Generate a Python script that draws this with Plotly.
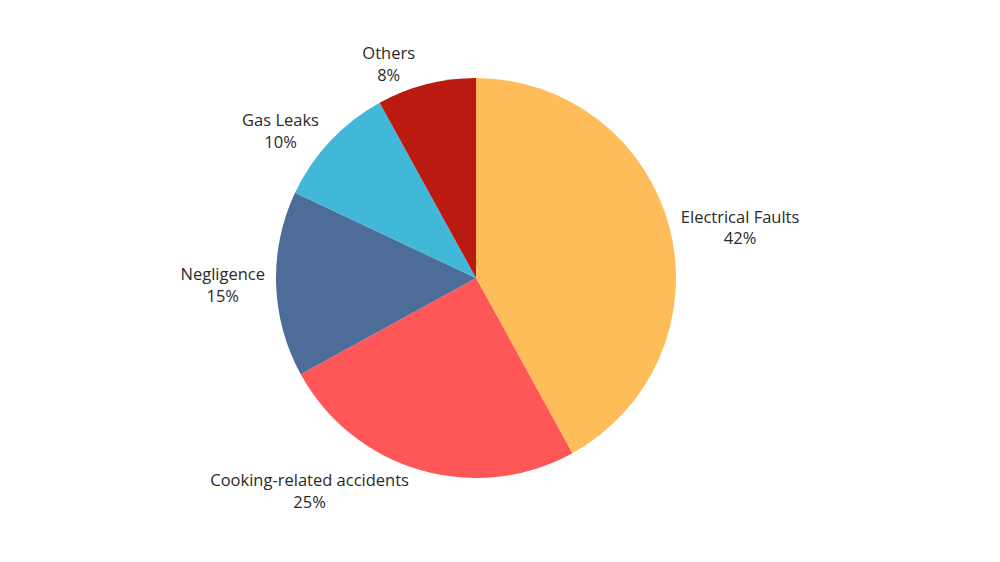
import plotly.graph_objects as go

causes = ['Electrical Faults', 'Cooking-related accidents', 'Negligence', 'Gas Leaks', 'Others']
shares = [42, 25, 15, 10, 8]
colors = ['#FFBD59', '#FF5757', '#4E6C98', '#42B8D8', '#BA1A0F']

fig = go.Figure(go.Pie(labels=causes, values=shares,
                       sort=False, direction='clockwise', rotation=0,
                       marker=dict(colors=colors, line=dict(width=0)),
                       textposition='outside',
                       texttemplate='%{label}<br>%{percent:.0%}',
                       textfont=dict(family='Open Sans', size=16.5, color='#2a2a2a'),
                       automargin=False,  # default template turns this on and moves the pie
                       hole=0, showlegend=False))

fig.update_layout(width=1000, height=562,
                  paper_bgcolor='white', plot_bgcolor='white',
                  margin=dict(l=0, r=64, t=70, b=92))

fig.write_html("out.html")
